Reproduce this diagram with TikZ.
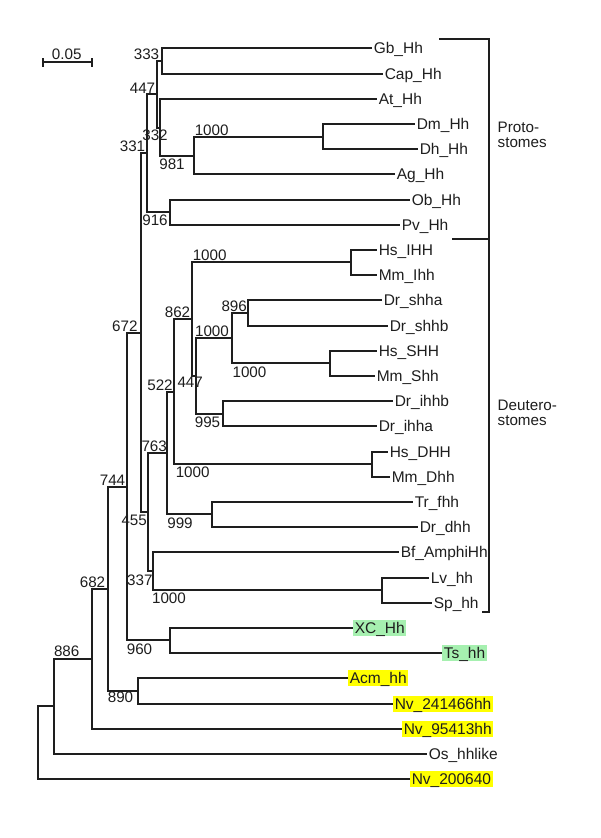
\documentclass[tikz,border=0pt]{standalone}
\usepackage{fontspec}
\setmainfont{Liberation Sans}
\definecolor{hlgreen}{RGB}{166,240,176}
\definecolor{hlyellow}{RGB}{255,255,0}
\definecolor{ink}{RGB}{30,30,30}
\begin{document}
\begin{tikzpicture}[x=1pt,y=-1pt,
  br/.style={line width=1.8pt, draw=ink},
  leaf/.style={anchor=west, inner xsep=1.6pt, inner ysep=0pt, text height=12.7pt, text depth=2.6pt, font=\fontsize{15.5}{15.5}\selectfont, text=ink},
  hlg/.style={leaf, fill=hlgreen},
  hly/.style={leaf, fill=hlyellow},
  bs/.style={inner sep=0pt, font=\fontsize{15.2}{15.2}\selectfont, text=ink},
  grp/.style={anchor=base west, inner sep=0pt, font=\fontsize{15.2}{15.2}\selectfont, text=ink}]
\useasboundingbox (0,0) rectangle (600,838);
\fill[white] (0,0) rectangle (600,838);

% ---------- leaves ----------
\node[leaf] (Gb)   at (372, 48) {Gb\_Hh};
\node[leaf] (Cap)  at (383, 74) {Cap\_Hh};
\node[leaf] (At)   at (377, 99) {At\_Hh};
\node[leaf] (Dm)   at (415,124) {Dm\_Hh};
\node[leaf] (Dh)   at (418,149) {Dh\_Hh};
\node[leaf] (Ag)   at (395,174) {Ag\_Hh};
\node[leaf] (Ob)   at (410,200) {Ob\_Hh};
\node[leaf] (Pv)   at (400,225) {Pv\_Hh};
\node[leaf] (HsI)  at (377,250) {Hs\_IHH};
\node[leaf] (MmI)  at (377,275) {Mm\_Ihh};
\node[leaf] (Dsa)  at (382,300) {Dr\_shha};
\node[leaf] (Dsb)  at (388,326) {Dr\_shhb};
\node[leaf] (HsS)  at (377,351) {Hs\_SHH};
\node[leaf] (MmS)  at (375,376) {Mm\_Shh};
\node[leaf] (Dib)  at (393,401) {Dr\_ihhb};
\node[leaf] (Dia)  at (377,426) {Dr\_ihha};
\node[leaf] (HsD)  at (388,452) {Hs\_DHH};
\node[leaf] (MmD)  at (390,477) {Mm\_Dhh};
\node[leaf] (Trf)  at (413,502) {Tr\_fhh};
\node[leaf] (Drd)  at (418,527) {Dr\_dhh};
\node[leaf] (Bf)   at (399,552) {Bf\_AmphiHh};
\node[leaf] (Lv)   at (429,578) {Lv\_hh};
\node[leaf] (Sp)   at (432,603) {Sp\_hh};
\node[hlg]  (XC)   at (353,628) {XC\_Hh};
\node[hlg]  (Ts)   at (442,653) {Ts\_hh};
\node[hly]  (Acm)  at (348,678) {Acm\_hh};
\node[hly]  (Nva)  at (393,704) {Nv\_241466hh};
\node[hly]  (Nvb)  at (402,729) {Nv\_95413hh};
\node[leaf] (Os)   at (427,754) {Os\_hhlike};
\node[hly]  (Nvc)  at (410,779) {Nv\_200640};

% ---------- internal nodes ----------
\coordinate (p333) at (162, 61);
\coordinate (pDm)  at (323,137);
\coordinate (p981) at (194,156);
\coordinate (p332) at (160,128);
\coordinate (p447) at (157, 94);
\coordinate (p916) at (170,212);
\coordinate (p331) at (147,153);
\coordinate (pIHH) at (351,262);
\coordinate (p896) at (248,313);
\coordinate (pSHH) at (330,363);
\coordinate (pA)   at (232,338);
\coordinate (p995) at (223,414);
\coordinate (pB)   at (196,376);
\coordinate (p862) at (192,319);
\coordinate (pDHH) at (372,464);
\coordinate (p522) at (174,392);
\coordinate (p999) at (212,514);
\coordinate (p763) at (167,453);
\coordinate (pLv)  at (382,590);
\coordinate (p337) at (153,571);
\coordinate (p455) at (148,512);
\coordinate (pC)   at (141,333);
\coordinate (p960) at (170,640);
\coordinate (p744) at (127,487);
\coordinate (p890) at (138,691);
\coordinate (p682) at (108,589);
\coordinate (p886) at (92,659);
\coordinate (pOs)  at (54,706);
\coordinate (root) at (38,743);

% ---------- branches ----------
\draw[br] (p333) |- (Gb.west);  \draw[br] (p333) |- (Cap.west);
\draw[br] (pDm) |- (Dm.west);   \draw[br] (pDm) |- (Dh.west);
\draw[br] (p981) |- (pDm);      \draw[br] (p981) |- (Ag.west);
\draw[br] (p332) |- (At.west);  \draw[br] (p332) |- (p981);
\draw[br] (p447) |- (p333);     \draw[br] (p447) |- (p332);
\draw[br] (p916) |- (Ob.west);  \draw[br] (p916) |- (Pv.west);
\draw[br] (p331) |- (p447);     \draw[br] (p331) |- (p916);
\draw[br] (pIHH) |- (HsI.west); \draw[br] (pIHH) |- (MmI.west);
\draw[br] (p896) |- (Dsa.west); \draw[br] (p896) |- (Dsb.west);
\draw[br] (pSHH) |- (HsS.west); \draw[br] (pSHH) |- (MmS.west);
\draw[br] (pA) |- (p896);       \draw[br] (pA) |- (pSHH);
\draw[br] (p995) |- (Dib.west); \draw[br] (p995) |- (Dia.west);
\draw[br] (pB) |- (pA);         \draw[br] (pB) |- (p995);
\draw[br] (p862) |- (pIHH);     \draw[br] (p862) |- (pB);
\draw[br] (pDHH) |- (HsD.west); \draw[br] (pDHH) |- (MmD.west);
\draw[br] (p522) |- (p862);     \draw[br] (p522) |- (pDHH);
\draw[br] (p999) |- (Trf.west); \draw[br] (p999) |- (Drd.west);
\draw[br] (p763) |- (p522);     \draw[br] (p763) |- (p999);
\draw[br] (pLv) |- (Lv.west);   \draw[br] (pLv) |- (Sp.west);
\draw[br] (p337) |- (Bf.west);  \draw[br] (p337) |- (pLv);
\draw[br] (p455) |- (p763);     \draw[br] (p455) |- (p337);
\draw[br] (pC) |- (p331);       \draw[br] (pC) |- (p455);
\draw[br] (p960) |- (XC.west);  \draw[br] (p960) |- (Ts.west);
\draw[br] (p744) |- (pC);       \draw[br] (p744) |- (p960);
\draw[br] (p890) |- (Acm.west); \draw[br] (p890) |- (Nva.west);
\draw[br] (p682) |- (p744);     \draw[br] (p682) |- (p890);
\draw[br] (p886) |- (p682);     \draw[br] (p886) |- (Nvb.west);
\draw[br] (pOs) |- (p886);      \draw[br] (pOs) |- (Os.west);
\draw[br] (root) |- (pOs);      \draw[br] (root) |- (Nvc.west);

% ---------- bootstrap values ----------
\node[bs] (b333)  at (146.5, 54.0) {333};
\node[bs] (b447a) at (142.5, 88.3) {447};
\node[bs] (b332)  at (155.0,135.0) {332};
\node[bs] (b331)  at (132.5,146.7) {331};
\node[bs] (b1kA)  at (211.7,130.0) {1000};
\node[bs] (b981)  at (172.0,164.3) {981};
\node[bs] (b916)  at (155.0,220.7) {916};
\node[bs] (b1kB)  at (209.7,255.0) {1000};
\node[bs] (b896)  at (234.2,306.7) {896};
\node[bs] (b862)  at (177.5,312.7) {862};
\node[bs] (b672)  at (124.8,326.7) {672};
\node[bs] (b1kC)  at (212.0,331.0) {1000};
\node[bs] (b1kD)  at (249.5,372.7) {1000};
\node[bs] (b447b) at (190.2,382.7) {447};
\node[bs] (b522)  at (160.0,385.0) {522};
\node[bs] (b995)  at (207.5,422.3) {995};
\node[bs] (b763)  at (154.2,446.7) {763};
\node[bs] (b1kE)  at (192.7,472.7) {1000};
\node[bs] (b744)  at (112.5,480.0) {744};
\node[bs] (b455)  at (134.2,520.0) {455};
\node[bs] (b999)  at (180.0,523.3) {999};
\node[bs] (b337)  at (139.8,580.7) {337};
\node[bs] (b682)  at (92.5,582.7) {682};
\node[bs] (b1kF)  at (169.0,598.3) {1000};
\node[bs] (b960)  at (139.5,649.0) {960};
\node[bs] (b886)  at (66.7,651.7) {886};
\node[bs] (b890)  at (120.5,697.7) {890};

% ---------- scale bar ----------
\coordinate (sbL) at (43,62);
\coordinate (sbR) at (92,62);
\draw[br] (sbL) -- (sbR);
\draw[br] ([yshift=-4.5pt]sbL) -- ([yshift=4.5pt]sbL);
\draw[br] ([yshift=-4.5pt]sbR) -- ([yshift=4.5pt]sbR);
\node[bs] (sbT) at (66.7,54.0) {0.05};

% ---------- group brackets ----------
\coordinate (prTop) at (439,39);
\coordinate (prBot) at (452,239);
\coordinate (dtBot) at (482,612);
\coordinate (brX)   at (489,239);
\draw[br] (prTop) -| (brX) |- (dtBot);
\draw[br] (prBot) -- (brX);
\node[grp] (proto1) at (497.5,132.3) {Proto-};
\node[grp] (proto2) at (497.5,147.3) {stomes};
\node[grp] (deut1)  at (497.5,410.7) {Deutero-};
\node[grp] (deut2)  at (497.5,425.7) {stomes};
\end{tikzpicture}
\end{document}
